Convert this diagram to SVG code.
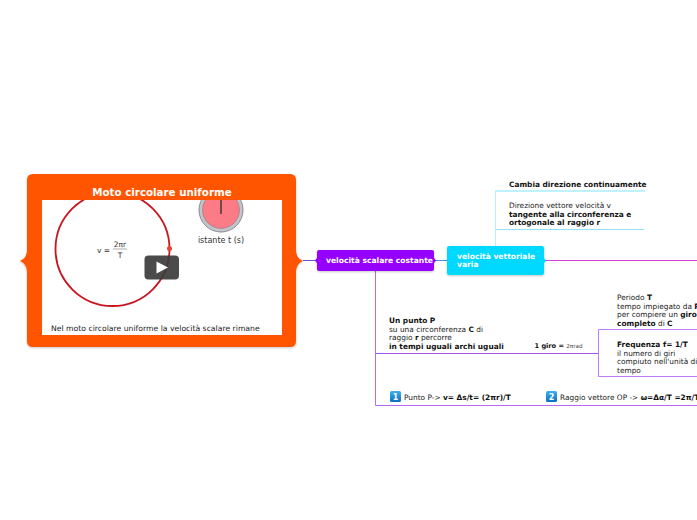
<svg xmlns="http://www.w3.org/2000/svg" width="697" height="520" viewBox="0 0 697 520">
<defs>
<style>
text{font-family:"DejaVu Sans",Verdana,sans-serif;font-size:7.4px;fill:#222}
.b{font-weight:700;fill:#111}
.w{font-weight:700;fill:#fff;font-size:7.6px}
.l{fill:none}
</style>
<clipPath id="ic"><rect x="42" y="200" width="240" height="135"/></clipPath>
<filter id="s" x="-10%" y="-10%" width="120%" height="125%"><feDropShadow dx="0" dy="1" stdDeviation="1.2" flood-color="#000" flood-opacity=".22"/></filter>
<linearGradient id="n" x1="0" y1="0" x2="0" y2="1"><stop offset="0" stop-color="#3fb0f0"/><stop offset="1" stop-color="#0b6fc0"/></linearGradient>
</defs>
<rect width="697" height="520" fill="#fff"/>
<g id="connectors" class="l">
<path d="M303 260.500H317" stroke="#6a4fe0" stroke-width="1"/>
<path d="M434 260.500H448" stroke="#4a8cf0" stroke-width="1"/>
<path d="M543 260.500H697" stroke="#d83fd8" stroke-width="1"/>
<path d="M495.500 247V191H645" stroke="#b4f0ff" stroke-width="1"/>
<path d="M495.500 191H645" stroke="#b4f0ff" stroke-width="1.500"/>
<path d="M495.500 229.500H644" stroke="#8fe6fa" stroke-width="1"/>
<path d="M375.500 271V405.500H697" stroke="#b86af5" stroke-width="1"/>
<path d="M375.500 353.500H598" stroke="#a855f0" stroke-width="1"/>
<path d="M697 329.500H598.500V376.500H697" stroke="#c07cf5" stroke-width="1"/>
</g>
<g id="main-topic">
<path filter="url(#s)" fill="#ff5500" d="M33 174H290Q296 174 296 180V250Q296 258 303 261Q296 264 296 272V341Q296 347 290 347H33Q27 347 27 341V272Q27 264 20 261Q27 258 27 250V180Q27 174 33 174Z"/>
<text x="162" y="196" text-anchor="middle" style="font-weight:700;fill:#fff;font-size:10.300px">Moto circolare uniforme</text>
<rect x="42" y="200" width="240" height="135" fill="#fff"/>
<g clip-path="url(#ic)">
<circle cx="112.500" cy="249" r="57" fill="none" stroke="#c9151f" stroke-width="1.800"/>
<circle cx="221" cy="210" r="22" fill="#c4c4cc" stroke="#8a8a92" stroke-width="1"/>
<circle cx="221" cy="210" r="18.500" fill="#fb7b86" stroke="#777" stroke-width=".5"/>
<path d="M221 200V214" stroke="#222" stroke-width="1.200"/>
</g>
<circle cx="169.500" cy="248.500" r="2.500" fill="#e8432f"/>
<text x="97" y="253" style="font-size:7.500px;fill:#333">v =</text>
<path d="M113 249H127" stroke="#555" stroke-width=".5"/>
<text x="120" y="247" text-anchor="middle" style="font-size:7.500px;fill:#333">2πr</text>
<text x="120" y="258" text-anchor="middle" style="font-size:7.500px;fill:#333">T</text>
<text x="221" y="243" text-anchor="middle" style="font-size:8px;fill:#333">istante t (s)</text>
<text x="51" y="331" style="font-size:7.700px;fill:#222">Nel moto circolare uniforme la velocità scalare rimane</text>
<rect x="144.500" y="255.500" width="34.500" height="24" rx="4" fill="#3c3c3c" fill-opacity=".92"/>
<path d="M156.500 261.500L168 267.500L156.500 273.500Z" fill="#fff"/>
</g>
<g id="velocita-scalare">
<path filter="url(#s)" fill="#9500ff" d="M319 250H432Q434 250 434 252V258L436 260.500L434 263V269Q434 271 432 271H319Q317 271 317 269V263L315 260.500L317 258V252Q317 250 319 250Z"/>
<text class="w" x="326" y="263">velocità scalare costante</text>
</g>
<g id="velocita-vettoriale">
<path filter="url(#s)" fill="#00d9ff" d="M449 246H542Q544 246 544 248V258L546 260.500L544 263V273Q544 275 542 275H449Q447 275 447 273V248Q447 246 449 246Z"/>
<text class="w" x="457" y="258.500">velocità vettoriale</text>
<text class="w" x="457" y="267">varia</text>
</g>
<g id="cambia"><text class="b" x="509" y="187">Cambia direzione continuamente</text></g>
<g id="direzione">
<text x="509" y="208">Direzione vettore velocità v</text>
<text class="b" x="509" y="217">tangente alla circonferenza e</text>
<text class="b" x="509" y="225">ortogonale al raggio r</text>
</g>
<g id="un-punto">
<text class="b" x="389" y="323">Un punto P</text>
<text x="389" y="332">su una circonferenza <tspan class="b">C</tspan> di</text>
<text x="389" y="340">raggio <tspan class="b">r</tspan> percorre</text>
<text class="b" x="389" y="349">in tempi uguali archi uguali</text>
</g>
<g id="giro"><text x="534.500" y="348" style="font-size:6.600px"><tspan class="b">1 giro = </tspan><tspan style="font-size:5.600px;fill:#444">2πrad</tspan></text></g>
<g id="periodo">
<text x="617" y="300">Periodo   <tspan class="b">T</tspan></text>
<text x="617" y="308.500">tempo impiegato da <tspan class="b">P</tspan></text>
<text x="617" y="317">per compiere un <tspan class="b">giro</tspan></text>
<text x="617" y="325.500"><tspan class="b">completo</tspan> di <tspan class="b">C</tspan></text>
</g>
<g id="frequenza">
<text class="b" x="617" y="347">Frequenza   f= 1/T</text>
<text x="617" y="355.500">il numero di giri</text>
<text x="617" y="364">compiuto nell'unità di</text>
<text x="617" y="372.500">tempo</text>
</g>
<g id="punto-v">
<rect x="390" y="391" width="11" height="11" rx="1.500" fill="url(#n)"/>
<text x="395.500" y="400" text-anchor="middle" style="font-weight:700;fill:#fff;font-size:8px">1</text>
<text x="404" y="400">Punto P-&gt; <tspan class="b">v= Δs/t= (2πr)/T</tspan></text>
</g>
<g id="raggio-omega">
<rect x="546" y="391" width="11" height="11" rx="1.500" fill="url(#n)"/>
<text x="551.500" y="400" text-anchor="middle" style="font-weight:700;fill:#fff;font-size:8px">2</text>
<text x="560" y="400">Raggio vettore OP -&gt; <tspan class="b">ω=Δα/T =2π/T</tspan></text>
</g>
</svg>
